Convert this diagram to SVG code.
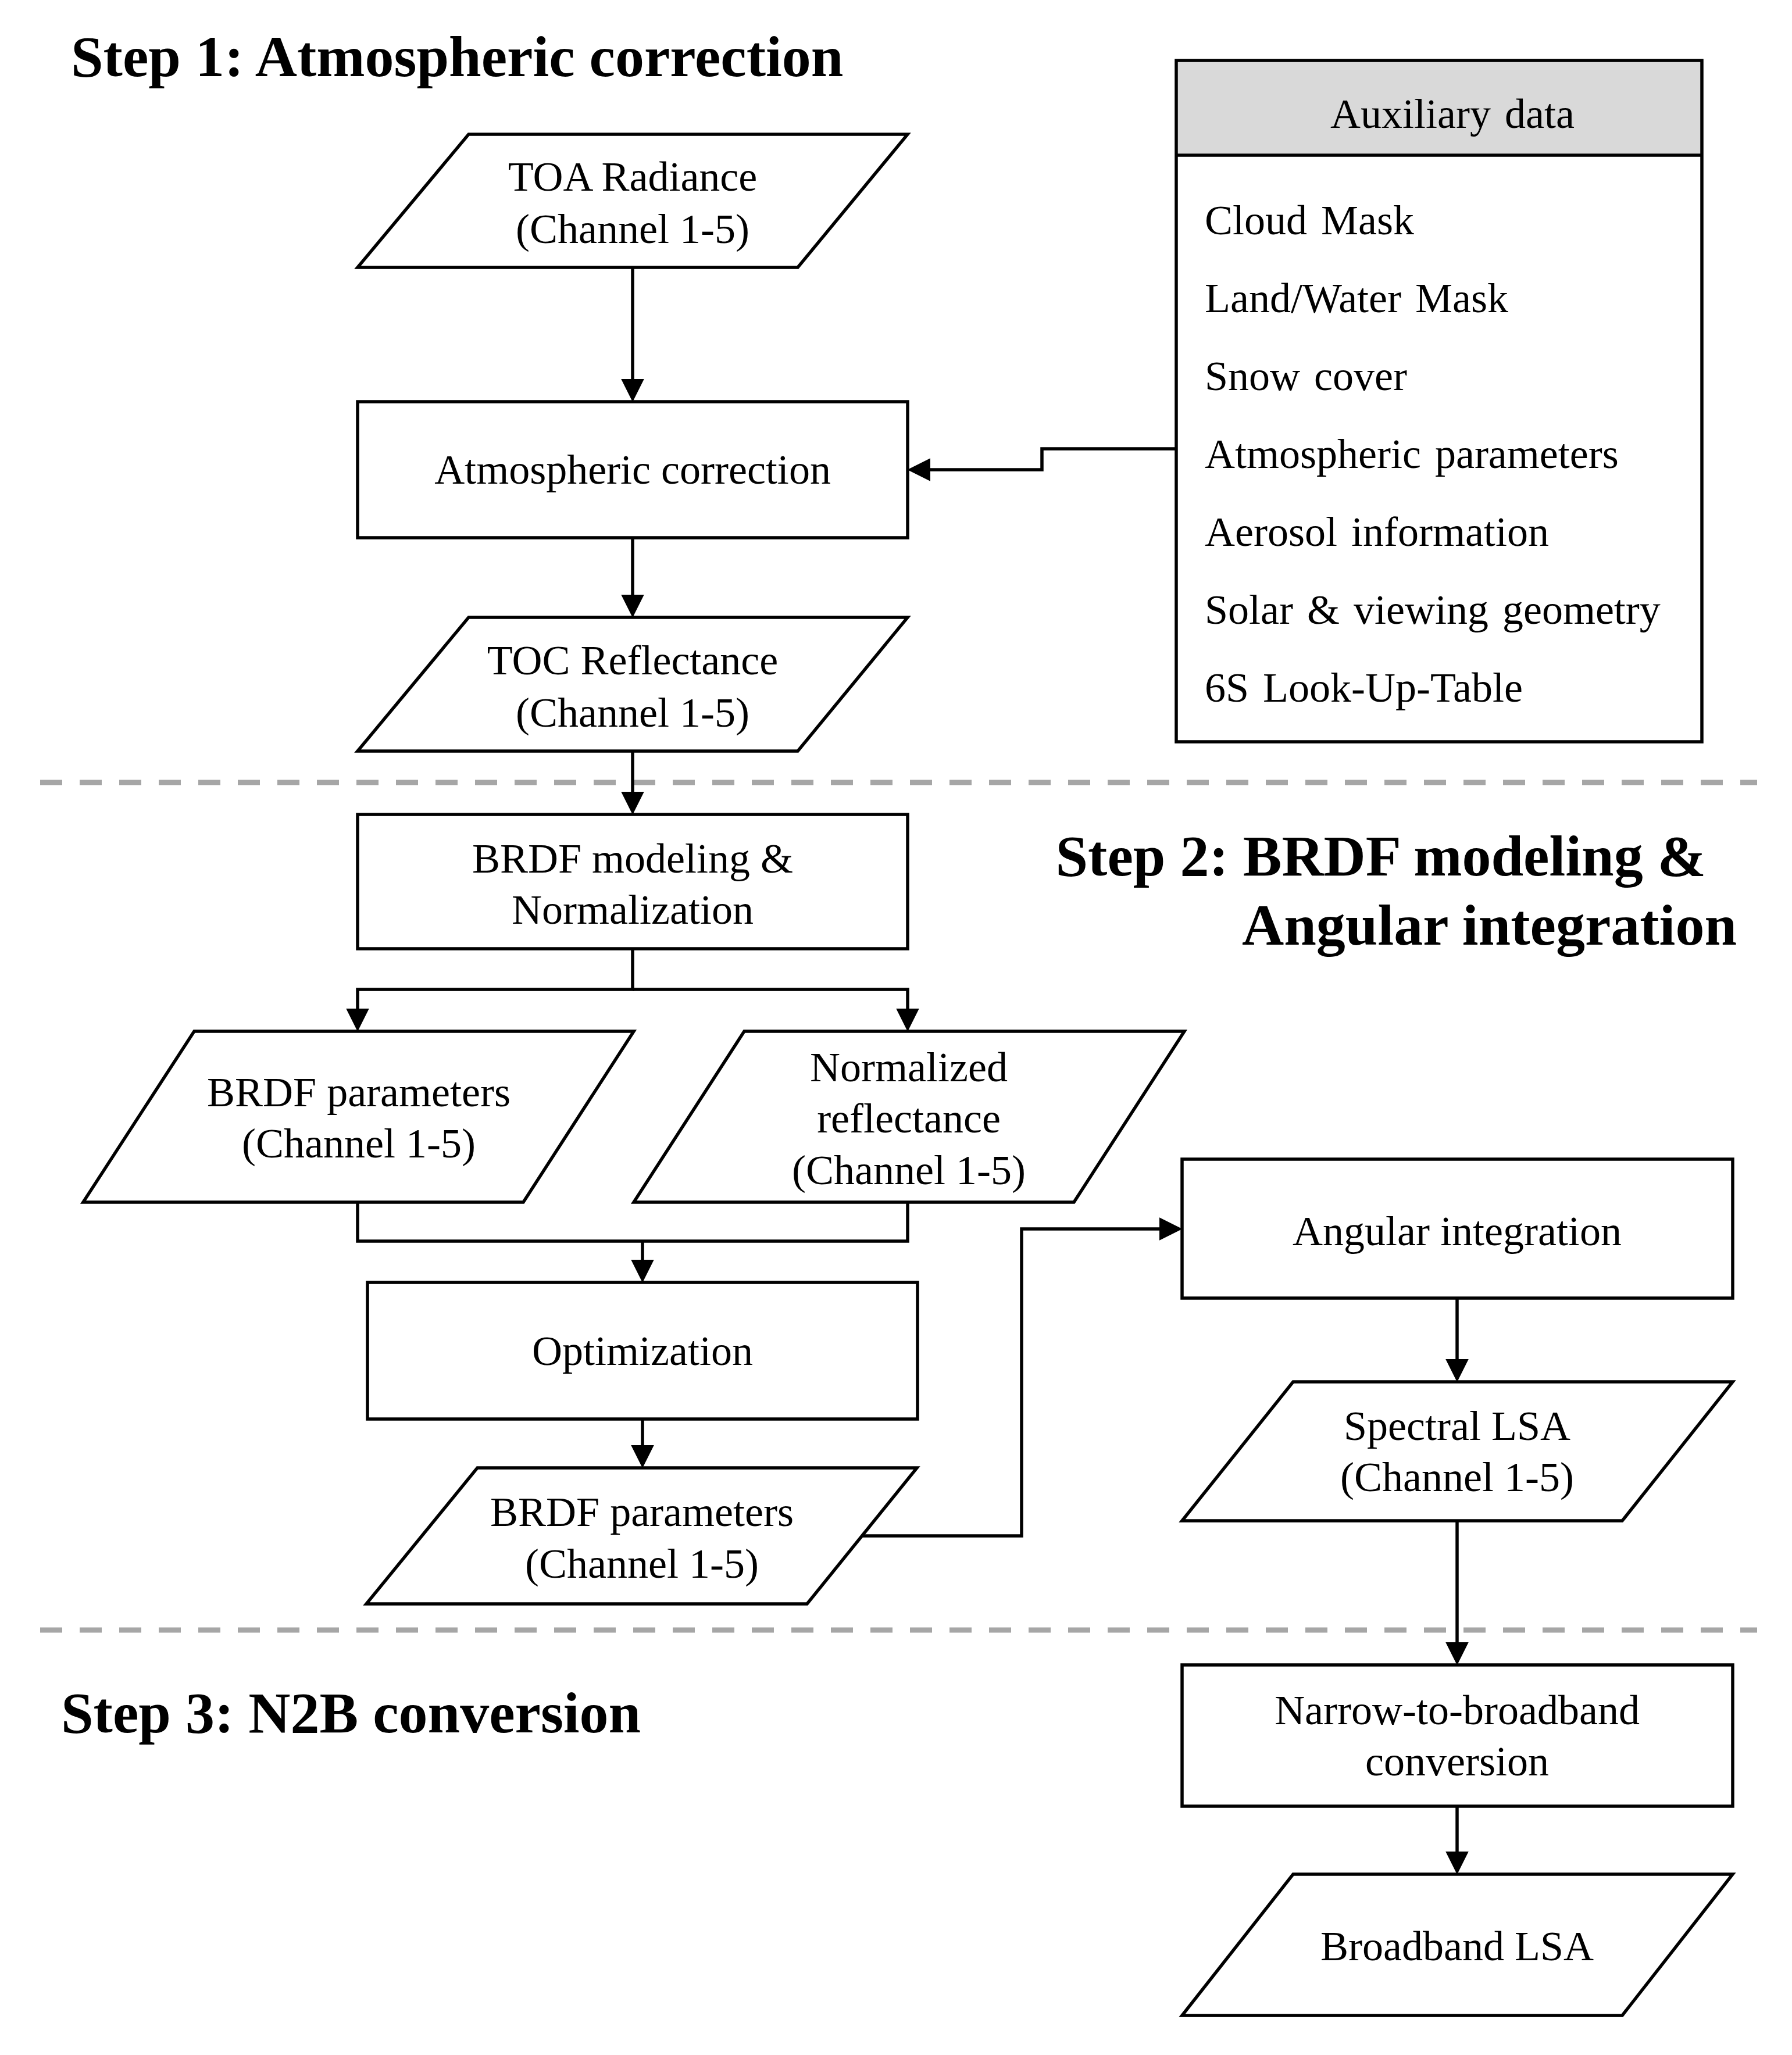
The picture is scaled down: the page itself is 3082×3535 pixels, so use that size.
<svg xmlns="http://www.w3.org/2000/svg" width="3082" height="3535" viewBox="0 0 3082 3535">
<style>
.shape{fill:#fff;stroke:#000;stroke-width:5.5;stroke-linejoin:miter}
.conn{fill:none;stroke:#000;stroke-width:5.5;marker-end:url(#arrow)}
.plain{fill:none;stroke:#000;stroke-width:5.5}
.sep{fill:none;stroke:#a6a6a6;stroke-width:9;stroke-dasharray:38 30}
.t{font-family:"Liberation Serif","Times New Roman",serif;font-size:72px;fill:#000;text-anchor:middle}
.l{font-family:"Liberation Serif","Times New Roman",serif;font-size:72px;fill:#000;word-spacing:6px}
.h{font-family:"Liberation Serif","Times New Roman",serif;font-size:100px;font-weight:bold;fill:#000}
</style>
<defs>
<marker id="arrow" markerUnits="userSpaceOnUse" markerWidth="40" markerHeight="40" viewBox="0 0 38 38" refX="28" refY="19" orient="auto">
<path d="M0,0 L38,19 L0,38 Z" fill="#000"/>
</marker>
</defs>
<rect width="3082" height="3535" fill="#fff"/>
<g id="separators">
<path class="sep" d="M69,1346 H3022"/>
<path class="sep" d="M69,2804 H3022"/>
</g>
<g id="titles">
<text class="h" x="122" y="131">Step 1: Atmospheric correction</text>
<text class="h" x="2934" y="1506" text-anchor="end">Step 2: BRDF modeling &amp;</text>
<text class="h" x="2987" y="1625" text-anchor="end">Angular integration</text>
<text class="h" x="105" y="2980">Step 3: N2B conversion</text>
</g>
<g id="connectors">
<path class="conn" d="M1088,460 V681"/>
<path class="conn" d="M2023,772 H1792 V808 H1571"/>
<path class="conn" d="M1088,925 V1052"/>
<path class="conn" d="M1088,1292 V1391"/>
<path class="conn" d="M1088,1632 V1702 H615 V1764"/>
<path class="conn" d="M1088,1702 H1561 V1764"/>
<path class="plain" d="M615,2068 V2135 H1561 V2068"/>
<path class="conn" d="M1105,2135 V2196"/>
<path class="conn" d="M1105,2441 V2515"/>
<path class="conn" d="M1482,2642 H1757 V2114 H2023"/>
<path class="conn" d="M2506,2233 V2367"/>
<path class="conn" d="M2506,2616 V2854"/>
<path class="conn" d="M2506,3107 V3214"/>
</g>
<g id="toa">
<polygon class="shape" points="806,231 1561,231 1372,460 615,460"/>
<text class="t" x="1088" y="328">TOA Radiance</text>
<text class="t" x="1088" y="418">(Channel 1-5)</text>
</g>
<g id="atmcorr">
<rect class="shape" x="615" y="691" width="946" height="234"/>
<text class="t" x="1088" y="832">Atmospheric correction</text>
</g>
<g id="toc">
<polygon class="shape" points="806,1062 1561,1062 1372,1292 615,1292"/>
<text class="t" x="1088" y="1160">TOC Reflectance</text>
<text class="t" x="1088" y="1250">(Channel 1-5)</text>
</g>
<g id="aux">
<rect x="2023" y="104" width="904" height="163" fill="#d9d9d9" stroke="none"/>
<rect class="shape" x="2023" y="104" width="904" height="1172" style="fill:none"/>
<path class="plain" d="M2023,267 H2927"/>
<text class="l" x="2288" y="220">Auxiliary data</text>
<text class="l" x="2072" y="403">Cloud Mask</text>
<text class="l" x="2072" y="537">Land/Water Mask</text>
<text class="l" x="2072" y="671">Snow cover</text>
<text class="l" x="2072" y="805">Atmospheric parameters</text>
<text class="l" x="2072" y="939">Aerosol information</text>
<text class="l" x="2072" y="1073">Solar &amp; viewing geometry</text>
<text class="l" x="2072" y="1207">6S Look-Up-Table</text>
</g>
<g id="brdfmodel">
<rect class="shape" x="615" y="1401" width="946" height="231"/>
<text class="t" x="1088" y="1501">BRDF modeling &amp;</text>
<text class="t" x="1088" y="1589">Normalization</text>
</g>
<g id="brdfparams1">
<polygon class="shape" points="334,1774 1090,1774 900,2068 143,2068"/>
<text class="t" x="617" y="1903">BRDF parameters</text>
<text class="t" x="617" y="1991">(Channel 1-5)</text>
</g>
<g id="normrefl">
<polygon class="shape" points="1280,1774 2037,1774 1847,2068 1090,2068"/>
<text class="t" x="1563" y="1860">Normalized</text>
<text class="t" x="1563" y="1948">reflectance</text>
<text class="t" x="1563" y="2037">(Channel 1-5)</text>
</g>
<g id="optim">
<rect class="shape" x="632" y="2206" width="946" height="235"/>
<text class="t" x="1105" y="2348">Optimization</text>
</g>
<g id="brdfparams2">
<polygon class="shape" points="821,2525 1577,2525 1388,2759 630,2759"/>
<text class="t" x="1104" y="2625">BRDF parameters</text>
<text class="t" x="1104" y="2714">(Channel 1-5)</text>
</g>
<g id="angular">
<rect class="shape" x="2033" y="1994" width="947" height="239"/>
<text class="t" x="2506" y="2142">Angular integration</text>
</g>
<g id="spectral">
<polygon class="shape" points="2224,2377 2980,2377 2790,2616 2033,2616"/>
<text class="t" x="2506" y="2477">Spectral LSA</text>
<text class="t" x="2506" y="2565">(Channel 1-5)</text>
</g>
<g id="n2b">
<rect class="shape" x="2033" y="2864" width="947" height="243"/>
<text class="t" x="2506" y="2966">Narrow-to-broadband</text>
<text class="t" x="2506" y="3054">conversion</text>
</g>
<g id="broadband">
<polygon class="shape" points="2224,3224 2980,3224 2790,3467 2033,3467"/>
<text class="t" x="2506" y="3372">Broadband LSA</text>
</g>
</svg>
